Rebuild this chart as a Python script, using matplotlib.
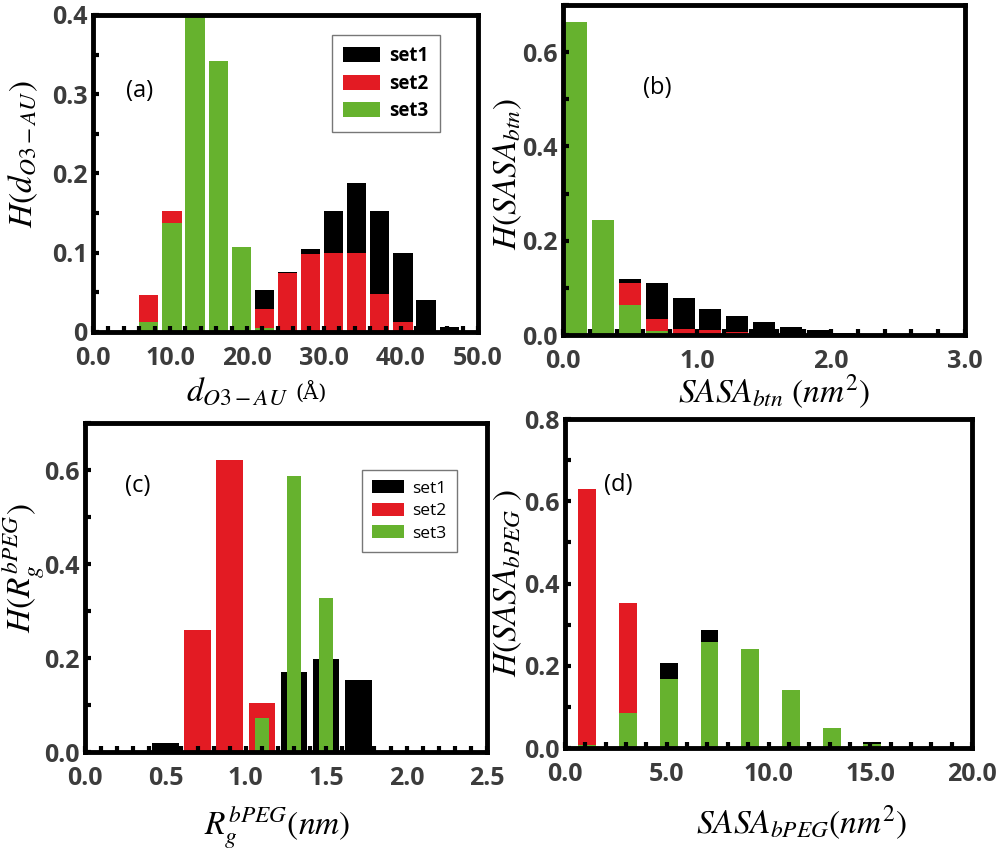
import matplotlib
matplotlib.use('Agg')
import matplotlib.pyplot as plt
from matplotlib.ticker import MultipleLocator, FormatStrFormatter
import numpy as np

plt.rcParams['font.family'] = ['Open Sans', 'DejaVu Sans']
plt.rcParams['mathtext.fontset'] = 'stix'

BLACK = '#000000'
RED = '#e31b23'
GREEN = '#66b22e'
TICK_COLOR = '#3c3c3c'

# (a) d_O3-AU histogram
a_x = [7.25, 10.25, 13.25, 16.25, 19.25, 22.25, 25.25, 28.25, 31.25, 34.25, 37.25, 40.25, 43.25, 46.25]
a_set1 = [0.0, 0.0, 0.0, 0.0, 0.0, 0.053, 0.076, 0.105, 0.152, 0.188, 0.152, 0.100, 0.040, 0.006]
a_set2 = [0.047, 0.152, 0.0, 0.0, 0.0, 0.029, 0.074, 0.098, 0.100, 0.100, 0.048, 0.012, 0.0, 0.0]
a_set3 = [0.013, 0.137, 0.397, 0.342, 0.107, 0.005, 0.0, 0.0, 0.0, 0.0, 0.0, 0.0, 0.0, 0.0]

# (b) SASA_btn histogram
b_x = [0.1, 0.3, 0.5, 0.7, 0.9, 1.1, 1.3, 1.5, 1.7, 1.9, 2.1, 2.3]
b_set1 = [0.0, 0.0, 0.119, 0.110, 0.078, 0.055, 0.040, 0.027, 0.018, 0.011, 0.005, 0.002]
b_set2 = [0.0, 0.0, 0.110, 0.033, 0.013, 0.011, 0.006, 0.0, 0.0, 0.0, 0.0, 0.0]
b_set3 = [0.665, 0.244, 0.063, 0.009, 0.0, 0.0, 0.0, 0.0, 0.0, 0.0, 0.0, 0.0]

# (c) Rg bPEG histogram
c_x = [0.5, 0.7, 0.9, 1.1, 1.3, 1.5, 1.7]
c_set1 = [0.019, 0.0, 0.0, 0.0, 0.171, 0.198, 0.153]
c_set2 = [0.0, 0.259, 0.621, 0.104, 0.002, 0.0, 0.0]
c_set3 = [0.0, 0.0, 0.0, 0.073, 0.587, 0.328, 0.0]

# (d) SASA_bPEG histogram
d_x = [1.1, 3.1, 5.1, 7.1, 9.1, 11.1, 13.1, 15.1]
d_set1 = [0.0, 0.0, 0.206, 0.288, 0.0, 0.0, 0.0, 0.014]
d_set2 = [0.630, 0.353, 0.0, 0.0, 0.0, 0.0, 0.0, 0.0]
d_set3 = [0.007, 0.086, 0.167, 0.259, 0.242, 0.140, 0.049, 0.010]

labels = ['set1', 'set2', 'set3']
LABEL_SIZE = 24


def style_axes(ax, xlim, ylim, xmaj, xmin, ymaj, ymin, xfmt, yfmt):
    ax.set_xlim(*xlim)
    ax.set_ylim(*ylim)
    ax.xaxis.set_major_locator(MultipleLocator(xmaj))
    ax.xaxis.set_minor_locator(MultipleLocator(xmin))
    ax.yaxis.set_major_locator(MultipleLocator(ymaj))
    ax.yaxis.set_minor_locator(MultipleLocator(ymin))
    ax.xaxis.set_major_formatter(FormatStrFormatter(xfmt))
    ax.yaxis.set_major_formatter(FormatStrFormatter(yfmt))
    for s in ax.spines.values():
        s.set_linewidth(3.5)
    ax.tick_params(which='both', direction='in', length=4, width=3,
                   top=False, right=False)
    ax.tick_params(which='major', labelsize=18, labelcolor=TICK_COLOR)
    ax.tick_params(axis='x', which='major', pad=10)
    ax.tick_params(axis='y', which='major', pad=4)
    for lab in ax.get_xticklabels() + ax.get_yticklabels():
        lab.set_fontweight('bold')


def bars(ax, x, s1, s2, s3, w, w3=None):
    if w3 is None:
        w3 = w
    ax.bar(x, s1, width=w, color=BLACK, label=labels[0])
    ax.bar(x, s2, width=w, color=RED, label=labels[1])
    ax.bar(x, s3, width=w3, color=GREEN, label=labels[2])


def axis_text(ax, x, y, s, rot=0, size=LABEL_SIZE, **kw):
    ax.text(x, y, s, transform=ax.transAxes, fontsize=size, rotation=rot,
            ha='center', va='center', **kw)


fig = plt.figure(figsize=(10, 8.51), dpi=100)

ax_a = fig.add_axes([0.093, 0.610, 0.385, 0.3725])
ax_b = fig.add_axes([0.563, 0.6063, 0.402, 0.3878])
ax_c = fig.add_axes([0.085, 0.1163, 0.402, 0.3866])
ax_d = fig.add_axes([0.565, 0.121, 0.407, 0.3866])

# (a)
bars(ax_a, a_x, a_set1, a_set2, a_set3, 2.5)
style_axes(ax_a, (0, 50), (0, 0.4), 10, 2, 0.1, 0.05, '%.1f', '%.1f')
ax_a.set_yticks([0, 0.1, 0.2, 0.3, 0.4])
ax_a.set_yticklabels(['0', '0.1', '0.2', '0.3', '0.4'], fontweight='bold')
axis_text(ax_a, -0.18, 0.56, r'$H(d_{O3-AU})$', rot=90)
axis_text(ax_a, 0.374, -0.19, r'$d_{O3-AU}$')
axis_text(ax_a, 0.566, -0.19, '(Å)', size=15, family='DejaVu Serif')
axis_text(ax_a, 0.122, 0.76, '(a)', size=17)
leg = ax_a.legend(loc='upper right', bbox_to_anchor=(0.901, 0.937),
                  borderaxespad=0, fancybox=False, edgecolor='#555555',
                  handlelength=1.95, handleheight=0.85, labelspacing=0.4,
                  handletextpad=0.5,
                  prop={'weight': 'bold', 'size': 13.5}, borderpad=0.6)
leg.get_frame().set_linewidth(1.0)

# (b)
bars(ax_b, b_x, b_set1, b_set2, b_set3, 0.165)
style_axes(ax_b, (0, 3), (0, 0.7), 1.0, 0.2, 0.2, 0.1, '%.1f', '%.1f')
axis_text(ax_b, -0.137, 0.49, r'$H(SASA_{btn})$', rot=90)
axis_text(ax_b, 0.525, -0.173, r'$SASA_{btn}\ (nm^2)$')
axis_text(ax_b, 0.234, 0.748, '(b)', size=17)

# (c)
bars(ax_c, c_x, c_set1, c_set2, c_set3, 0.165, w3=0.09)
style_axes(ax_c, (0, 2.5), (0, 0.7), 0.5, 0.1, 0.2, 0.1, '%.1f', '%.1f')
axis_text(ax_c, -0.154, 0.56, r'$H(R_g^{bPEG})$', rot=90)
axis_text(ax_c, 0.477, -0.23, r'$R_g^{bPEG}(nm)$')
axis_text(ax_c, 0.132, 0.81, '(c)', size=17)
leg = ax_c.legend(loc='upper right', bbox_to_anchor=(0.925, 0.857),
                  borderaxespad=0, fancybox=False, edgecolor='#555555',
                  handlelength=1.8, handleheight=0.75, labelspacing=0.35,
                  handletextpad=0.5,
                  prop={'size': 12.5}, borderpad=0.6)
leg.get_frame().set_linewidth(1.0)

# (d)
bars(ax_d, d_x, d_set1, d_set2, d_set3, 0.88)
style_axes(ax_d, (0, 20), (0, 0.8), 5, 1, 0.2, 0.1, '%.1f', '%.1f')
axis_text(ax_d, -0.14, 0.50, r'$H(SASA_{bPEG}\ )$', rot=90)
axis_text(ax_d, 0.582, -0.228, r'$SASA_{bPEG}(nm^2)$')
axis_text(ax_d, 0.13, 0.80, '(d)', size=17)

fig.savefig('out.png', dpi=100)
